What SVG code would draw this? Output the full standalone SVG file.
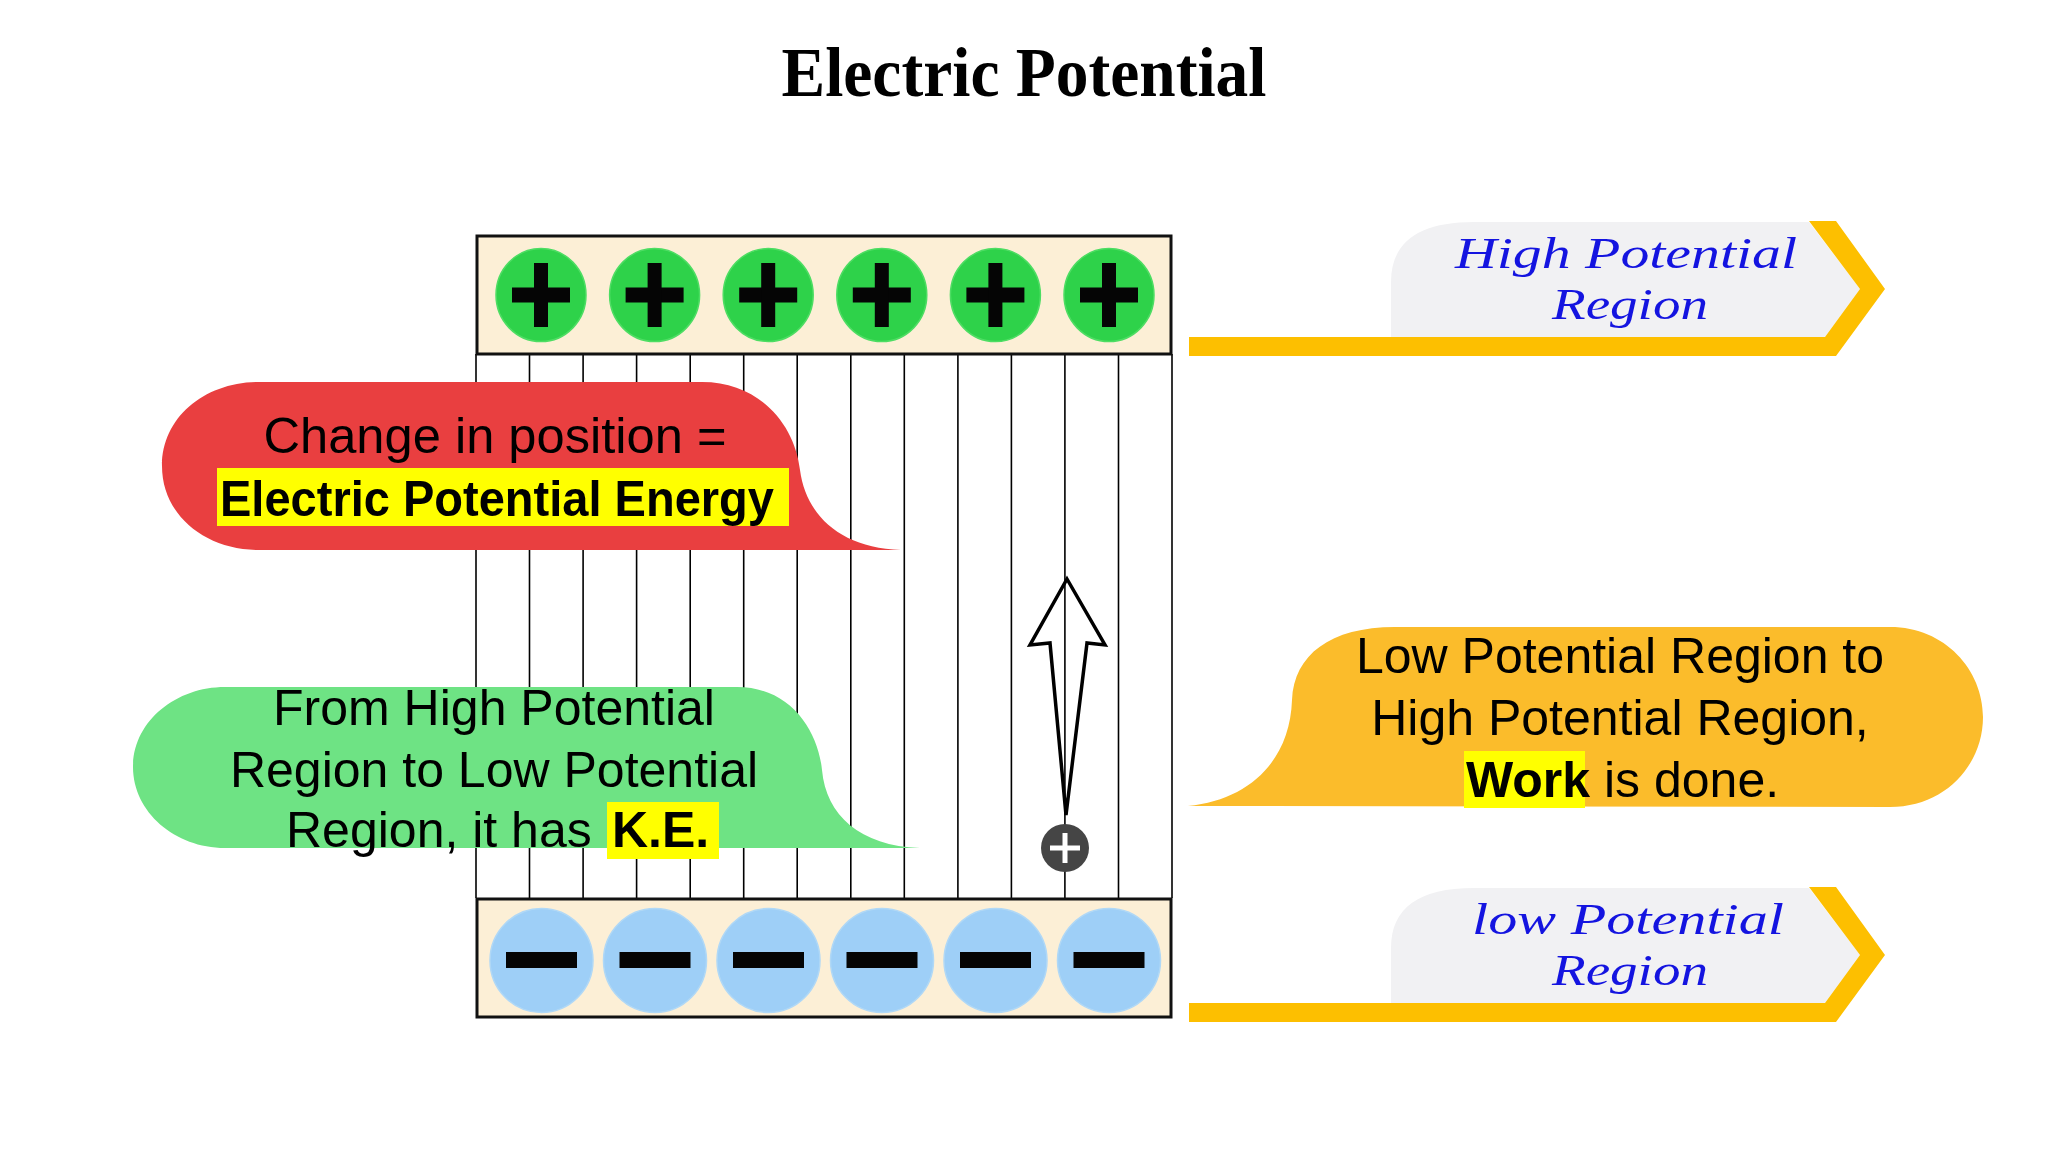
<svg xmlns="http://www.w3.org/2000/svg" width="2048" height="1152" viewBox="0 0 2048 1152">
  <defs>
    <style>
      .sans { font-family: "Liberation Sans", Arial, sans-serif; font-size: 50px; fill: #000; }
      .bold { font-weight: bold; }
      .script { font-family: "Segoe Script", "Lucida Handwriting", "Liberation Serif", serif; font-style: italic; font-size: 44px; fill: #1414E0; }
      .plate { fill: #FCEFD6; stroke: #111; stroke-width: 3; }
      .pos { fill: #2ED24A; stroke: #4DDD63; stroke-width: 1.5; }
      .neg { fill: #9ECFF7; stroke: #B0D8F6; stroke-width: 1.5; }
      .grid line { stroke: #000; stroke-width: 1.6; }
      .hl { fill: #FFFF00; }
      .tabbg { fill: #F1F1F3; }
      .tab { fill: #FDBF00; }
    </style>
    <g id="plusSign">
      <rect x="-29" y="-7.5" width="58" height="15" fill="#050505"/>
      <rect x="-7" y="-32" width="14" height="64" fill="#050505"/>
    </g>
    <g id="minusSign">
      <rect x="-35.5" y="-8" width="71" height="16" fill="#050505"/>
    </g>
    <g id="tabShape">
      <path class="tabbg" d="M1391,337 L1391,282 Q1391,222 1474,222 L1809,222 L1860,289 L1825,337 Z"/>
      <polygon class="tab" points="1809,221 1836,221 1885,289 1836,356 1189,356 1189,337 1825,337 1860,289"/>
    </g>
  </defs>

  <rect x="0" y="0" width="2048" height="1152" fill="#FFFFFF"/>

  <g id="title">
    <text x="1024" y="96" text-anchor="middle" font-family="'Liberation Serif', 'Times New Roman', serif" font-weight="bold" font-size="70" textLength="485" lengthAdjust="spacingAndGlyphs" fill="#000">Electric Potential</text>
  </g>

  <g id="field-lines" class="grid">
    <line x1="476" y1="354" x2="476" y2="898"/>
    <line x1="529.5" y1="354" x2="529.5" y2="898"/>
    <line x1="583.1" y1="354" x2="583.1" y2="898"/>
    <line x1="636.6" y1="354" x2="636.6" y2="898"/>
    <line x1="690.2" y1="354" x2="690.2" y2="898"/>
    <line x1="743.7" y1="354" x2="743.7" y2="898"/>
    <line x1="797.2" y1="354" x2="797.2" y2="898"/>
    <line x1="850.8" y1="354" x2="850.8" y2="898"/>
    <line x1="904.3" y1="354" x2="904.3" y2="898"/>
    <line x1="957.9" y1="354" x2="957.9" y2="898"/>
    <line x1="1011.4" y1="354" x2="1011.4" y2="898"/>
    <line x1="1064.9" y1="354" x2="1064.9" y2="898"/>
    <line x1="1118.5" y1="354" x2="1118.5" y2="898"/>
    <line x1="1172" y1="354" x2="1172" y2="898"/>
  </g>

  <g id="positive-plate">
    <rect class="plate" x="477" y="236" width="694" height="118"/>
    <ellipse class="pos" cx="541" cy="295" rx="45" ry="46.5"/>
    <ellipse class="pos" cx="654.6" cy="295" rx="45" ry="46.5"/>
    <ellipse class="pos" cx="768.2" cy="295" rx="45" ry="46.5"/>
    <ellipse class="pos" cx="881.8" cy="295" rx="45" ry="46.5"/>
    <ellipse class="pos" cx="995.4" cy="295" rx="45" ry="46.5"/>
    <ellipse class="pos" cx="1109" cy="295" rx="45" ry="46.5"/>
    <use href="#plusSign" x="541" y="295"/>
    <use href="#plusSign" x="654.6" y="295"/>
    <use href="#plusSign" x="768.2" y="295"/>
    <use href="#plusSign" x="881.8" y="295"/>
    <use href="#plusSign" x="995.4" y="295"/>
    <use href="#plusSign" x="1109" y="295"/>
  </g>

  <g id="negative-plate">
    <rect class="plate" x="477" y="899" width="694" height="118"/>
    <ellipse class="neg" cx="541.5" cy="960.5" rx="51.5" ry="52"/>
    <ellipse class="neg" cx="655" cy="960.5" rx="51.5" ry="52"/>
    <ellipse class="neg" cx="768.5" cy="960.5" rx="51.5" ry="52"/>
    <ellipse class="neg" cx="882" cy="960.5" rx="51.5" ry="52"/>
    <ellipse class="neg" cx="995.5" cy="960.5" rx="51.5" ry="52"/>
    <ellipse class="neg" cx="1109" cy="960.5" rx="51.5" ry="52"/>
    <use href="#minusSign" x="541.5" y="960"/>
    <use href="#minusSign" x="655" y="960"/>
    <use href="#minusSign" x="768.5" y="960"/>
    <use href="#minusSign" x="882" y="960"/>
    <use href="#minusSign" x="995.5" y="960"/>
    <use href="#minusSign" x="1109" y="960"/>
  </g>

  <g id="connectors">
    <polygon points="1067,579 1105,645 1087,643 1066,815 1050,643 1030,645" fill="none" stroke="#000" stroke-width="3.5" stroke-linejoin="miter"/>
  </g>

  <g id="test-charge">
    <circle cx="1065" cy="848" r="24" fill="#454545"/>
    <rect x="1050" y="845.5" width="30" height="5" fill="#FFF"/>
    <rect x="1062.5" y="833" width="5" height="30" fill="#FFF"/>
  </g>

  <g id="callout-red">
    <path d="M259,382 L702,382 C760,382 795,425 800,470 C806,515 840,548 901,550 L259,550 C205,550 162,515 162,466 C162,417 205,382 259,382 Z" fill="#E93F40"/>
    <text class="sans" x="495" y="453" text-anchor="middle" textLength="463" lengthAdjust="spacingAndGlyphs">Change in position =</text>
    <rect class="hl" x="217" y="468" width="572" height="58"/>
    <text class="sans bold" x="497" y="516" text-anchor="middle" textLength="554" lengthAdjust="spacingAndGlyphs">Electric Potential Energy</text>
  </g>

  <g id="callout-green">
    <path d="M225,687 L737,687 C790,687 818,730 822,770 C826,815 860,846 920,848 L225,848 C175,848 133,812 133,767 C133,722 175,687 225,687 Z" fill="#6EE384"/>
    <rect class="hl" x="607" y="802" width="112" height="57"/>
    <text class="sans" x="494" y="725" text-anchor="middle">From High Potential</text>
    <text class="sans" x="494" y="787" text-anchor="middle">Region to Low Potential</text>
    <text class="sans" x="286" y="847">Region, it has <tspan class="bold" x="612">K.E.</tspan></text>
  </g>

  <g id="callout-orange">
    <path d="M1188,806 C1250,800 1290,760 1292,700 C1294,655 1330,627 1395,627 L1890,627 C1945,627 1983,670 1983,717 C1983,765 1945,807 1890,807 Z" fill="#FBBC2B"/>
    <rect class="hl" x="1464" y="751" width="121" height="57"/>
    <text class="sans" x="1620" y="673" text-anchor="middle">Low Potential Region to</text>
    <text class="sans" x="1620" y="735" text-anchor="middle">High Potential Region,</text>
    <text class="sans" x="1466" y="797"><tspan class="bold">Work</tspan> is done.</text>
  </g>

  <g id="label-high">
    <use href="#tabShape"/>
    <text class="script" x="1626" y="268" text-anchor="middle" textLength="342" lengthAdjust="spacingAndGlyphs">High Potential</text>
    <text class="script" x="1630" y="319" text-anchor="middle" textLength="156" lengthAdjust="spacingAndGlyphs">Region</text>
  </g>

  <g id="label-low">
    <use href="#tabShape" y="666"/>
    <text class="script" x="1628" y="934" text-anchor="middle" textLength="312" lengthAdjust="spacingAndGlyphs">low Potential</text>
    <text class="script" x="1630" y="985" text-anchor="middle" textLength="156" lengthAdjust="spacingAndGlyphs">Region</text>
  </g>
</svg>
